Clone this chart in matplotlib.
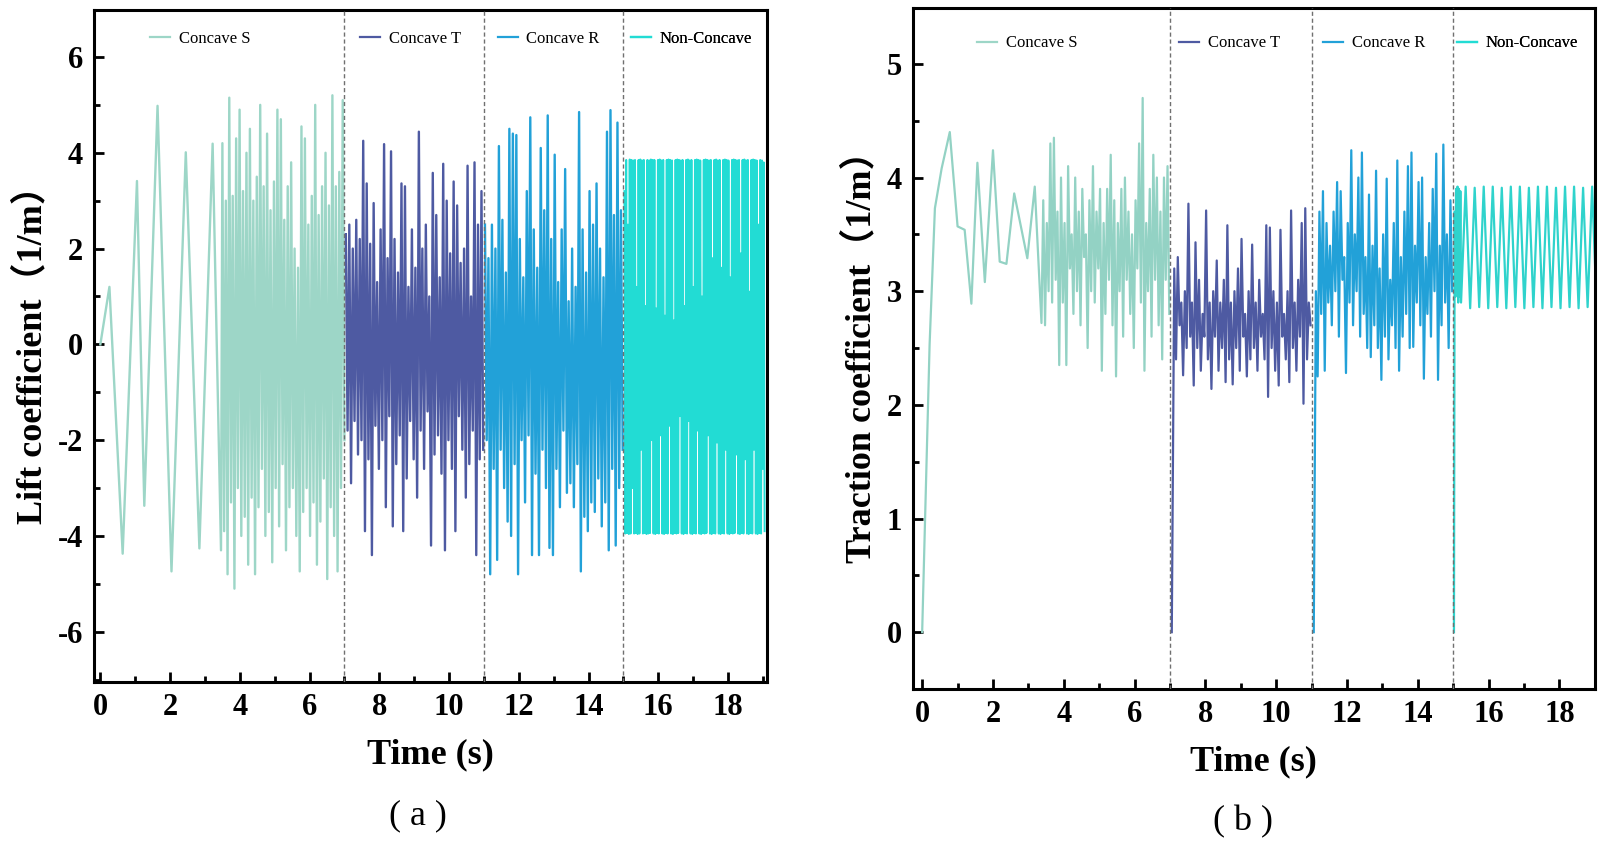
import numpy as np
import matplotlib
matplotlib.use("Agg")
import matplotlib.pyplot as plt
from matplotlib.lines import Line2D
from matplotlib.ticker import MultipleLocator

# ---------------- data ----------------
labels = ["Concave S", "Concave T", "Concave R", "Non-Concave"]
colors = ["#9dd6c7", "#4e5aa2", "#22a1d8", "#22dcd4"]
boundaries = [7, 11, 15]
xticks = [0, 2, 4, 6, 8, 10, 12, 14, 16, 18]

# ---- (a) Lift coefficient ----
lift_S_early_t = [0.0, 0.26, 0.64, 1.05, 1.26, 1.64, 2.04, 2.45, 2.84, 3.22, 3.46]
lift_S_early_v = [0.0, 1.2, -4.37, 3.41, -3.37, 4.98, -4.74, 4.01, -4.26, 4.19, -4.3]
lift_S_span = (3.5, 7.0)
lift_S_hi = [4.2, 3.0, 5.15, 3.1, 4.3, 4.9, 3.2, 4.0, 4.5, 3.0, 3.5, 5.0, 3.3, 4.4, 2.8, 3.4, 4.9, 4.7,
             2.6, 3.3, 3.8, 2.0, 1.6, 4.55, 4.3, 2.5, 3.1, 5.0, 2.7, 3.3, 4.0, 2.9, 5.2, 3.3, 3.6, 5.1]
lift_S_lo = [-3.9, -4.8, -3.3, -5.1, -3.0, -4.0, -3.6, -4.6, -3.2, -4.8, -3.4, -2.6, -4.0, -3.5, -4.55, -3.0, -3.8, -2.5,
             -4.3, -3.4, -3.0, -4.0, -4.74, -3.5, -3.0, -4.0, -3.3, -4.6, -3.7, -2.8, -4.9, -3.4, -4.0, -4.74, -3.0, -2.0]

lift_T_span = (7.04, 10.98)
lift_T_hi = [2.3, 2.5, 2.0, 2.6, 2.2, 4.25, 3.36, 2.1, 2.95, 1.3, 2.4, 4.18, 1.8, 4.03, 2.2, 1.5, 3.36, 3.3, 1.2, 2.4,
             1.6, 4.44, 2.0, 2.5, 1.0, 3.58, 2.7, 1.4, 3.77, 3.0, 1.9, 3.4, 2.9, 1.7, 2.0, 3.73, 1.0, 3.8, 2.5, 3.2]
lift_T_lo = [-1.8, -2.9, -1.6, -2.3, -2.0, -3.9, -2.4, -4.4, -1.7, -2.6, -2.0, -3.4, -1.5, -3.8, -2.5, -1.9, -3.9, -2.8, -1.6, -2.4,
             -3.2, -1.8, -2.6, -1.4, -4.2, -2.3, -1.9, -2.7, -4.3, -2.0, -2.6, -3.9, -1.5, -2.2, -3.2, -2.5, -1.8, -4.4, -2.4, -2.2]

lift_R_span = (11.03, 14.98)
lift_R_hi = [2.5, 1.8, 2.5, 2.0, 4.14, 2.6, 1.5, 4.5, 4.4, 4.37, 2.2, 1.4, 3.2, 4.74, 2.4, 1.6, 4.1, 2.8, 4.78, 2.2,
             3.96, 1.3, 2.4, 3.66, 0.9, 2.0, 1.2, 4.85, 2.4, 1.5, 3.2, 2.5, 3.36, 2.0, 1.4, 4.44, 4.89, 2.7, 4.63, 2.8]
lift_R_lo = [-2.0, -4.8, -2.6, -4.5, -2.2, -3.0, -3.7, -4.0, -2.5, -4.8, -2.0, -3.3, -1.9, -4.4, -2.7, -4.4, -2.2, -3.0, -4.25, -4.4,
             -2.6, -3.4, -1.8, -3.1, -2.9, -3.4, -2.5, -4.74, -3.6, -3.9, -3.3, -3.5, -2.8, -3.8, -3.3, -4.3, -2.6, -4.2, -3.0, -2.2]

lift_N_span = (15.03, 19.05)
lift_N_hi = [3.2, 3.85, 2.5, 3.86, 3.85, 3.84, 3.85, 1.2, 3.85, 3.86, 3.84, 3.85, 0.8, 3.85, 3.84, 3.86, 3.85, 3.85,
             0.75, 3.85, 3.86, 3.84, 3.85, 0.6, 3.85, 3.86, 3.85, 3.84, 0.5, 3.85, 3.86, 3.85, 3.84, 3.85, 0.8, 3.85,
             3.86, 3.84, 3.85, 1.2, 3.85, 3.86, 3.85, 3.84, 1.0, 3.85, 3.86, 3.85, 3.84, 3.85, 1.8, 3.85, 3.86, 3.84,
             3.85, 1.6, 3.85, 3.86, 3.85, 3.84, 1.4, 3.85, 3.86, 3.85, 3.84, 3.85, 1.9, 3.85, 3.86, 3.84, 3.85, 1.1,
             3.85, 3.86, 3.85, 3.84, 2.5, 3.85, 3.84, 3.8]
lift_N_lo = [-3.95, -3.94, -3.96, -3.95, -3.0, -3.95, -3.94, -3.96, -3.95, -2.2, -3.95, -3.94, -3.96, -3.95, -3.94,
             -2.0, -3.95, -3.96, -3.94, -3.95, -1.9, -3.95, -3.96, -3.94, -3.95, -1.7, -3.95, -3.96, -3.94, -3.95,
             -3.94, -1.5, -3.95, -3.96, -3.94, -3.95, -1.6, -3.95, -3.96, -3.94, -3.95, -1.8, -3.95, -3.96, -3.94,
             -3.95, -3.94, -1.9, -3.95, -3.96, -3.94, -3.95, -2.05, -3.95, -3.96, -3.94, -3.95, -2.2, -3.95, -3.96,
             -3.94, -3.95, -3.94, -2.3, -3.95, -3.96, -3.94, -3.95, -2.4, -3.95, -3.96, -3.94, -3.95, -2.2, -3.95,
             -3.96, -3.94, -3.95, -2.6, -3.9]

# ---- (b) Traction coefficient ----
trac_S_early_t = [0.0, 0.07, 0.21, 0.36, 0.55, 0.78, 1.0, 1.2, 1.39, 1.56, 1.77, 2.0, 2.19, 2.38, 2.6, 2.97, 3.18, 3.37]
trac_S_early_v = [0.0, 0.85, 2.53, 3.73, 4.08, 4.40, 3.57, 3.54, 2.89, 4.13, 3.08, 4.24, 3.26, 3.24, 3.86, 3.29, 3.92, 2.72]
trac_S_span = (3.42, 6.98)
trac_S_hi = [3.8, 3.6, 4.3, 4.35, 3.7, 4.0, 3.6, 4.1, 3.5, 4.0, 3.7, 3.9, 3.5, 3.8, 4.1, 3.7, 3.9, 3.6,
             3.9, 4.2, 3.8, 3.6, 3.9, 4.0, 3.7, 3.5, 3.8, 4.3, 4.7, 3.6, 3.9, 4.2, 4.0, 3.7, 4.0, 4.1]
trac_S_lo = [2.7, 3.0, 2.9, 3.1, 2.35, 2.9, 2.35, 3.2, 2.8, 3.0, 2.7, 3.3, 2.5, 3.0, 2.9, 3.2, 2.3, 2.8,
             3.1, 2.7, 2.25, 3.0, 2.6, 3.1, 2.8, 2.5, 3.2, 2.9, 2.3, 3.0, 2.6, 3.1, 2.7, 2.4, 3.1, 2.8]

trac_T_start = (7.05, 0.0)
trac_T_span = (7.12, 10.97)
trac_T_hi = [3.2, 3.3, 2.9, 3.0, 3.77, 2.9, 3.43, 3.1, 2.8, 3.71, 2.9, 3.0, 3.27, 2.9, 3.1, 3.58, 2.9, 3.0, 3.2, 3.46,
             2.8, 3.0, 3.41, 2.9, 3.1, 2.8, 3.58, 3.56, 3.0, 2.9, 3.54, 2.8, 3.0, 3.71, 2.9, 3.1, 3.6, 3.73, 2.9]
trac_T_lo = [2.4, 2.7, 2.26, 2.5, 2.6, 2.17, 2.5, 2.3, 2.6, 2.4, 2.14, 2.6, 2.3, 2.5, 2.2, 2.4, 2.18, 2.5, 2.3, 2.6,
             2.25, 2.4, 2.5, 2.3, 2.6, 2.4, 2.07, 2.5, 2.3, 2.17, 2.6, 2.4, 2.2, 2.5, 2.3, 2.6, 2.01, 2.4, 2.7]

trac_R_start = (11.06, 0.0)
trac_R_span = (11.12, 14.97)
trac_R_hi = [3.0, 3.7, 3.88, 3.6, 3.4, 3.7, 3.96, 3.88, 3.3, 3.6, 4.24, 3.5, 4.0, 4.22, 3.3, 3.85, 3.4, 4.06, 3.2, 3.5,
             3.99, 3.1, 3.6, 4.15, 3.3, 3.7, 4.10, 4.22, 3.4, 3.96, 4.0, 3.3, 3.6, 3.9, 4.21, 3.4, 4.29, 3.5, 3.8]
trac_R_lo = [2.25, 2.8, 2.3, 2.9, 2.7, 3.0, 2.6, 3.1, 2.28, 2.9, 2.7, 3.0, 2.6, 2.8, 2.5, 2.42, 2.7, 2.5, 2.22, 2.6,
             2.4, 2.7, 2.5, 2.3, 2.6, 2.8, 2.5, 2.51, 2.9, 2.7, 2.23, 2.8, 2.6, 3.0, 2.22, 2.7, 2.9, 2.5, 3.0]

trac_N_start_span = (15.02, 15.22)
trac_N_start_v = [0.0, 3.7, 2.95, 3.9, 3.0, 3.92, 2.9, 3.9, 2.95, 3.88, 2.9]
trac_N_span = (15.35, 19.05)
trac_N_v = [3.92, 2.85, 3.91, 2.86, 3.92, 2.85, 3.92, 2.86, 3.91, 2.85, 3.92, 2.86, 3.92, 2.85, 3.91,
            2.86, 3.92, 2.85, 3.92, 2.86, 3.91, 2.85, 3.92, 2.86, 3.92, 2.85, 3.91, 2.86, 3.92, 2.85]


def interleave(hi, lo):
    out = np.empty(len(hi) + len(lo))
    out[0::2] = hi
    out[1::2] = lo
    return out


def seg(span, vals):
    vals = np.asarray(vals, dtype=float)
    return np.linspace(span[0], span[1], len(vals)), vals


# ---------------- figure ----------------
SERIF = ["Liberation Serif", "Noto Sans CJK SC", "DejaVu Sans"]
plt.rcParams["font.family"] = SERIF
plt.rcParams["axes.unicode_minus"] = False

fig = plt.figure(figsize=(16, 8.5), dpi=100)
axA = fig.add_axes([0.0588, 0.1976, 0.4206, 0.7906])
axB = fig.add_axes([0.5706, 0.1894, 0.4262, 0.8010])

LW = 1.7

# (a) series
tS1 = np.array(lift_S_early_t)
vS1 = np.array(lift_S_early_v)
tS2, vS2 = seg(lift_S_span, interleave(lift_S_hi, lift_S_lo))
axA.plot(np.concatenate([tS1, tS2]), np.concatenate([vS1, vS2]), color=colors[0], lw=LW)
t, v = seg(lift_T_span, interleave(lift_T_hi, lift_T_lo))
axA.plot(t, v, color=colors[1], lw=LW)
t, v = seg(lift_R_span, interleave(lift_R_hi, lift_R_lo))
axA.plot(t, v, color=colors[2], lw=LW)
t, v = seg(lift_N_span, interleave(lift_N_hi, lift_N_lo))
axA.plot(t, v, color=colors[3], lw=1.4)

# (b) series
LWB = 1.6
tS2, vS2 = seg(trac_S_span, interleave(trac_S_hi, trac_S_lo))
axB.plot(np.concatenate([trac_S_early_t, tS2]), np.concatenate([trac_S_early_v, vS2]),
         color="#93d2c4", lw=LWB)
t, v = seg(trac_T_span, interleave(trac_T_hi, trac_T_lo))
axB.plot(np.concatenate([[trac_T_start[0]], t]), np.concatenate([[trac_T_start[1]], v]), color=colors[1], lw=LWB)
t, v = seg(trac_R_span, interleave(trac_R_hi, trac_R_lo))
axB.plot(np.concatenate([[trac_R_start[0]], t]), np.concatenate([[trac_R_start[1]], v]), color=colors[2], lw=LWB)
t1, v1 = seg(trac_N_start_span, trac_N_start_v)
t2, v2 = seg(trac_N_span, trac_N_v)
axB.plot(np.concatenate([t1, t2]), np.concatenate([v1, v2]), color="#2fd3cc", lw=LWB)

# axes styling
def style(ax, xlim, ylim, yticks, yminor, ylabel, leg_pos):
    ax.set_xlim(*xlim)
    ax.set_ylim(*ylim)
    ax.set_xticks(xticks)
    ax.set_yticks(yticks)
    ax.xaxis.set_minor_locator(MultipleLocator(1))
    ax.yaxis.set_minor_locator(MultipleLocator(yminor))
    ax.tick_params(which="both", direction="in", top=False, right=False, width=2)
    ax.tick_params(which="major", length=7, labelsize=22, pad=8)
    ax.tick_params(which="minor", length=4)
    for lab in ax.get_xticklabels() + ax.get_yticklabels():
        lab.set_fontweight("bold")
    for sp in ax.spines.values():
        sp.set_linewidth(2.2)
        sp.set_color("black")
    for b in boundaries:
        ax.axvline(b, color="#707070", lw=1.0, ls=(0, (3, 2)), zorder=3)
    ax.set_xlabel("Time (s)", fontsize=26, fontweight="bold", labelpad=12)
    ax.set_ylabel(ylabel, fontsize=26, fontweight="bold", labelpad=6)
    for lab, col, (tx, ty) in zip(labels, colors, leg_pos):
        h = Line2D([], [], color=col, lw=1.6)
        leg = ax.legend(handles=[h], labels=[lab], loc="center left", bbox_to_anchor=(tx, ty),
                        bbox_transform=ax.transData, frameon=False, prop={"family": SERIF, "size": 12},
                        handlelength=1.2, handletextpad=0.5, borderpad=0, borderaxespad=0)
        ax.add_artist(leg)


style(axA, (-0.18, 19.12), (-7.05, 6.98), [-6, -4, -2, 0, 2, 4, 6], 1,
      "Lift coefficient（1/m）", [(1.43, 6.38), (7.46, 6.38), (11.4, 6.38), (15.23, 6.38)])
style(axB, (-0.26, 19.0), (-0.5, 5.49), [0, 1, 2, 3, 4, 5], 0.5,
      "Traction coefficient（1/m）", [(1.56, 5.18), (7.26, 5.18), (11.33, 5.18), (15.1, 5.18)])

fig.text(0.261, 0.04, "( a )", fontsize=26, ha="center", va="center")
fig.text(0.777, 0.033, "( b )", fontsize=26, ha="center", va="center")

fig.savefig("out.png", dpi=100)
